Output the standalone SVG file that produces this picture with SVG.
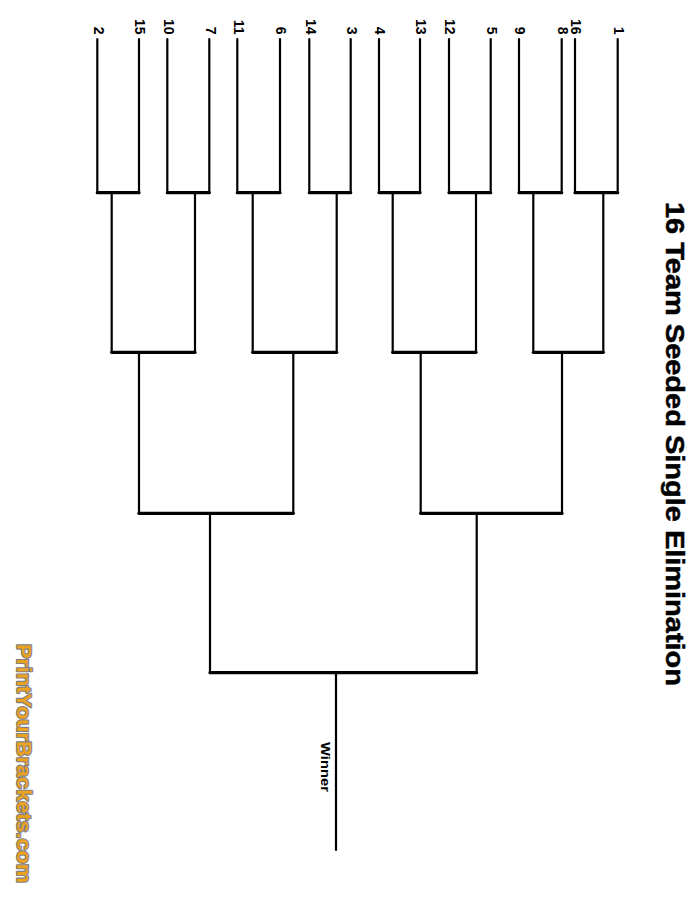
<svg xmlns="http://www.w3.org/2000/svg" width="700" height="900" viewBox="0 0 700 900">
<style>
  .v { stroke: #000; stroke-width: 2.2; stroke-linecap: round; fill: none; }
  .h { stroke: #000; stroke-width: 3.2; stroke-linecap: round; fill: none; }
  .seed { font-family: "Liberation Sans", Arial, sans-serif; font-weight: bold; font-size: 14px; fill: #000; text-anchor: end; }
  .title { font-family: "Liberation Sans", Arial, sans-serif; font-weight: bold; font-size: 25.5px; fill: #000; stroke: #000; stroke-width: 0.5; }
  .winner { font-family: "Liberation Sans", Arial, sans-serif; font-weight: bold; font-size: 13px; fill: #000; }
  .brand { font-family: "Liberation Sans", Arial, sans-serif; font-weight: bold; font-size: 21px; fill: #EBA21E; stroke: #7d8087; stroke-width: 2.2; paint-order: stroke; stroke-linejoin: round; }
</style>
<rect width="700" height="900" fill="#fff"/>

<g id="title">
  <text class="title" transform="translate(666,202) rotate(90)" textLength="484" lengthAdjust="spacingAndGlyphs">16 Team Seeded Single Elimination</text>
</g>

<g id="seeds">
  <g id="seed-2"><line class="v" x1="97.3" y1="39" x2="97.3" y2="192.7"/><text class="seed" transform="translate(93.6,34.5) rotate(90)">2</text></g>
  <g id="seed-15"><line class="v" x1="139" y1="39" x2="139" y2="192.7"/><text class="seed" transform="translate(135.3,34.5) rotate(90)">15</text></g>
  <g id="seed-10"><line class="v" x1="167.3" y1="39" x2="167.3" y2="192.7"/><text class="seed" transform="translate(163.6,34.5) rotate(90)">10</text></g>
  <g id="seed-7"><line class="v" x1="209.3" y1="39" x2="209.3" y2="192.7"/><text class="seed" transform="translate(205.6,34.5) rotate(90)">7</text></g>
  <g id="seed-11"><line class="v" x1="237.3" y1="39" x2="237.3" y2="192.7"/><text class="seed" transform="translate(233.6,34.5) rotate(90)">11</text></g>
  <g id="seed-6"><line class="v" x1="280" y1="39" x2="280" y2="192.7"/><text class="seed" transform="translate(276.3,34.5) rotate(90)">6</text></g>
  <g id="seed-14"><line class="v" x1="309.3" y1="39" x2="309.3" y2="192.7"/><text class="seed" transform="translate(305.6,34.5) rotate(90)">14</text></g>
  <g id="seed-3"><line class="v" x1="350.7" y1="39" x2="350.7" y2="192.7"/><text class="seed" transform="translate(347,34.5) rotate(90)">3</text></g>
  <g id="seed-4"><line class="v" x1="379" y1="39" x2="379" y2="192.7"/><text class="seed" transform="translate(375.3,34.5) rotate(90)">4</text></g>
  <g id="seed-13"><line class="v" x1="420" y1="39" x2="420" y2="192.7"/><text class="seed" transform="translate(416.3,34.5) rotate(90)">13</text></g>
  <g id="seed-12"><line class="v" x1="449" y1="39" x2="449" y2="192.7"/><text class="seed" transform="translate(445.3,34.5) rotate(90)">12</text></g>
  <g id="seed-5"><line class="v" x1="490.7" y1="39" x2="490.7" y2="192.7"/><text class="seed" transform="translate(487,34.5) rotate(90)">5</text></g>
  <g id="seed-9"><line class="v" x1="519" y1="39" x2="519" y2="192.7"/><text class="seed" transform="translate(515.3,34.5) rotate(90)">9</text></g>
  <g id="seed-8"><line class="v" x1="561.7" y1="39" x2="561.7" y2="192.7"/><text class="seed" transform="translate(558,34.5) rotate(90)">8</text></g>
  <g id="seed-16"><line class="v" x1="575" y1="39" x2="575" y2="192.7"/><text class="seed" transform="translate(571.3,34.5) rotate(90)">16</text></g>
  <g id="seed-1"><line class="v" x1="617.7" y1="39" x2="617.7" y2="192.7"/><text class="seed" transform="translate(614,34.5) rotate(90)">1</text></g>
</g>

<g id="connectors">
  <line class="h" x1="97.3" y1="192.7" x2="139" y2="192.7"/>
  <line class="h" x1="167.3" y1="192.7" x2="209.3" y2="192.7"/>
  <line class="h" x1="237.3" y1="192.7" x2="280" y2="192.7"/>
  <line class="h" x1="309.3" y1="192.7" x2="350.7" y2="192.7"/>
  <line class="h" x1="379" y1="192.7" x2="420" y2="192.7"/>
  <line class="h" x1="449" y1="192.7" x2="490.7" y2="192.7"/>
  <line class="h" x1="519" y1="192.7" x2="561.7" y2="192.7"/>
  <line class="h" x1="575" y1="192.7" x2="617.7" y2="192.7"/>
  <line class="v" x1="111.7" y1="192.7" x2="111.7" y2="352.3"/>
  <line class="v" x1="195" y1="192.7" x2="195" y2="352.3"/>
  <line class="v" x1="252.7" y1="192.7" x2="252.7" y2="352.3"/>
  <line class="v" x1="336.7" y1="192.7" x2="336.7" y2="352.3"/>
  <line class="v" x1="392.7" y1="192.7" x2="392.7" y2="352.3"/>
  <line class="v" x1="476" y1="192.7" x2="476" y2="352.3"/>
  <line class="v" x1="533.3" y1="192.7" x2="533.3" y2="352.3"/>
  <line class="v" x1="603.3" y1="192.7" x2="603.3" y2="352.3"/>
  <line class="h" x1="111.7" y1="352.3" x2="195" y2="352.3"/>
  <line class="h" x1="252.7" y1="352.3" x2="336.7" y2="352.3"/>
  <line class="h" x1="392.7" y1="352.3" x2="476" y2="352.3"/>
  <line class="h" x1="533.3" y1="352.3" x2="603.3" y2="352.3"/>
  <line class="v" x1="139" y1="352.3" x2="139" y2="513.3"/>
  <line class="v" x1="293.3" y1="352.3" x2="293.3" y2="513.3"/>
  <line class="v" x1="420.7" y1="352.3" x2="420.7" y2="513.3"/>
  <line class="v" x1="562" y1="352.3" x2="562" y2="513.3"/>
  <line class="h" x1="139" y1="513.3" x2="293.3" y2="513.3"/>
  <line class="h" x1="420.7" y1="513.3" x2="562" y2="513.3"/>
  <line class="v" x1="210" y1="513.3" x2="210" y2="672.7"/>
  <line class="v" x1="476.7" y1="513.3" x2="476.7" y2="672.7"/>
  <line class="h" x1="210" y1="672.7" x2="476.7" y2="672.7"/>
  <line class="v" x1="336" y1="672.7" x2="336" y2="850"/>
</g>

<g id="winner">
  <text class="winner" transform="translate(320.5,742) rotate(90)" textLength="50" lengthAdjust="spacingAndGlyphs">Winner</text>
</g>

<g id="brand">
  <text class="brand" transform="translate(17,644) rotate(90)" textLength="239" lengthAdjust="spacingAndGlyphs">PrintYourBrackets.com</text>
</g>
</svg>
